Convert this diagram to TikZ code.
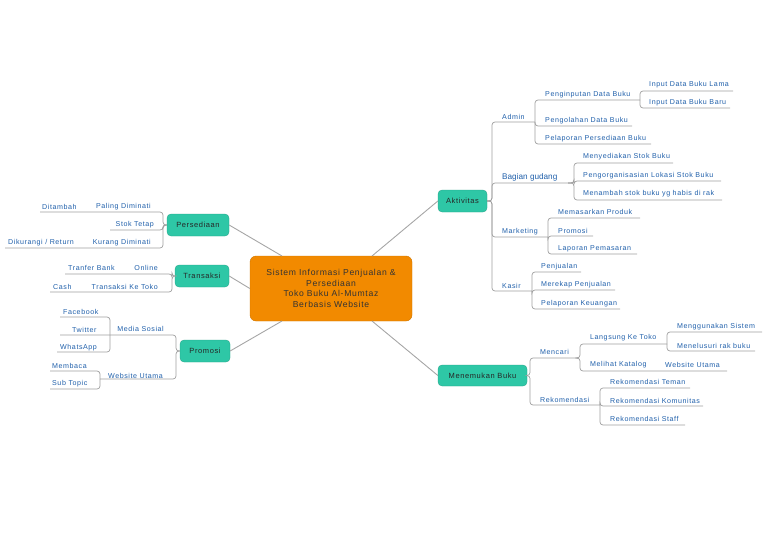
\documentclass[tikz,border=0pt]{standalone}
\usepackage{fontspec}
\setmainfont{Liberation Sans}
\newfontfamily\lff[LetterSpace=8]{Liberation Sans}
\begin{document}
\begin{tikzpicture}[x=1pt,y=-1pt,
  lf/.style={inner sep=0pt,font=\lff\fontsize{7.1}{8}\selectfont,text=leafblue},
  ln/.style={draw=gray!75,line width=0.7pt,rounded corners=3pt},
  topic/.style={rounded corners=4pt,fill=tealc,draw=tealc!80!black,line width=0.3pt,font=\lff\fontsize{7.5}{9}\selectfont,text=black!85,inner sep=0pt},
  cl/.style={draw=gray!70,line width=0.9pt}]
\definecolor{leafblue}{HTML}{1F5FAA}
\definecolor{tealc}{HTML}{2EC7A6}
\definecolor{orangec}{HTML}{F28A00}
\useasboundingbox (0,0) rectangle (768,543);
% central
\node[rounded corners=6pt,fill=orangec,draw=orangec!85!black,minimum width=162pt,minimum height=65pt,align=center,font=\lff\fontsize{8.6}{10.5}\selectfont,text=black!80] (c) at (331,288.5) {Sistem Informasi Penjualan \&\\Persediaan\\Toko Buku Al-Mumtaz\\Berbasis Website};
\node[topic,minimum width=49pt,minimum height=22pt] (akt) at (462.5,201) {Aktivitas};
\node[topic,minimum width=89pt,minimum height=21pt] (men) at (482.5,375.5) {Menemukan Buku};
\node[topic,minimum width=62pt,minimum height=22pt] (per) at (198,225) {Persediaan};
\node[topic,minimum width=54pt,minimum height=22pt] (tra) at (202,276) {Transaksi};
\node[topic,minimum width=50pt,minimum height=22pt] (pro) at (205,351) {Promosi};
\draw[cl] (372,256) -- (akt.west);
\draw[cl] (372,321) -- (men.west);
\draw[cl] (282,256) -- (per.east);
\draw[cl] (c.west) -- (tra.east);
\draw[cl] (282,321) -- (pro.east);
% ---------- Aktivitas
\coordinate (ak) at (487,201);
\draw[ln] (ak) -- (492,201) |- (535,122);
\draw[ln] (ak) -- (492,201) |- (568,183);
\draw[ln] (ak) -- (492,201) |- (548,237);
\draw[ln] (ak) -- (492,201) |- (532,291);
\node[lf,anchor=west] (admin) at (502,117) {Admin};
\node[lf,anchor=west,font=\fontsize{8.2}{9}\selectfont] (bg) at (502,177) {Bagian gudang};
\node[lf,anchor=west] (mk) at (502,232) {Marketing};
\node[lf,anchor=west] (ks) at (502,286) {Kasir};
% admin children
\draw[ln] (535,122) |- (640,100);
\draw[ln] (535,122) |- (632,126);
\draw[ln] (535,122) |- (651,144);
\node[lf,anchor=west] (pdb) at (545,95) {Penginputan Data Buku};
\node[lf,anchor=west] (olah) at (545,121) {Pengolahan Data Buku};
\node[lf,anchor=west] (lpb) at (545,139) {Pelaporan Persediaan Buku};
\draw[ln] (640,100) |- (733,91);
\draw[ln] (640,100) |- (730,108);
\node[lf,anchor=west] (idl) at (649,85) {Input Data Buku Lama};
\node[lf,anchor=west] (idb) at (649,103) {Input Data Buku Baru};
% gudang
\draw[ln] (568,183) -- (574,183) |- (673,163);
\draw[ln] (568,183) -- (574,183) |- (721,181);
\draw[ln] (568,183) -- (574,183) |- (722,200);
\node[lf,anchor=west] (g1) at (583,157) {Menyediakan Stok Buku};
\node[lf,anchor=west] (g2) at (583,176) {Pengorganisasian Lokasi Stok Buku};
\node[lf,anchor=west] (g3) at (583,194) {Menambah stok buku yg habis di rak};
% marketing
\draw[ln] (548,237) |- (640,218);
\draw[ln] (548,237) |- (593,236);
\draw[ln] (548,237) |- (637,254);
\node[lf,anchor=west] (m1) at (558,212) {Memasarkan Produk};
\node[lf,anchor=west] (m2) at (558,231) {Promosi};
\node[lf,anchor=west] (m3) at (558,249) {Laporan Pemasaran};
% kasir
\draw[ln] (532,291) |- (581,272);
\draw[ln] (532,291) |- (615,290);
\draw[ln] (532,291) |- (620,309);
\node[lf,anchor=west] (k1) at (541,267) {Penjualan};
\node[lf,anchor=west] (k2) at (541,285) {Merekap Penjualan};
\node[lf,anchor=west] (k3) at (541,304) {Pelaporan Keuangan};
% ---------- Menemukan Buku
\draw[ln] (men.east) -- (530,375.5) |- (578,358);
\draw[ln] (men.east) -- (530,375.5) |- (600,405);
\node[lf,anchor=west] (mc) at (540,352) {Mencari};
\node[lf,anchor=west] (rk) at (540,400) {Rekomendasi};
\draw[ln] (578,358) -- (580,358) |- (667,344);
\draw[ln] (578,358) -- (580,358) |- (727,371);
\node[lf,anchor=west] (lt) at (590,338) {Langsung Ke Toko};
\node[lf,anchor=west] (mk2) at (590,365) {Melihat Katalog};
\node[lf,anchor=west] (wu) at (665,365) {Website Utama};
\draw[ln] (667,344) |- (762,332);
\draw[ln] (667,344) |- (755,351);
\node[lf,anchor=west] (ms) at (677,327) {Menggunakan Sistem};
\node[lf,anchor=west] (mr) at (677,346) {Menelusuri rak buku};
\draw[ln] (600,405) |- (690,388);
\draw[ln] (600,405) |- (703,406);
\draw[ln] (600,405) |- (685,425);
\node[lf,anchor=west] (r1) at (610,382) {Rekomendasi Teman};
\node[lf,anchor=west] (r2) at (610,401) {Rekomendasi Komunitas};
\node[lf,anchor=west] (r3) at (610,419) {Rekomendasi Staff};
% ---------- Persediaan
\draw[ln] (per.west) -- (163,225) |- (40,212);
\draw[ln] (per.west) -- (163,225) |- (110,230);
\draw[ln] (per.west) -- (163,225) |- (5,248);
\node[lf,anchor=east] (pd) at (151,207) {Paling Diminati};
\node[lf,anchor=west] (dt) at (42,207) {Ditambah};
\node[lf,anchor=east] (st) at (154,225) {Stok Tetap};
\node[lf,anchor=east] (kd) at (151,243) {Kurang Diminati};
\node[lf,anchor=west] (dr) at (8,243) {Dikurangi / Return};
% ---------- Transaksi
\draw[ln] (tra.west) -- (172,276) |- (65,274);
\draw[ln] (tra.west) -- (172,276) |- (50,292);
\node[lf,anchor=east] (on) at (158,268) {Online};
\node[lf,anchor=west] (tb) at (68,268) {Tranfer Bank};
\node[lf,anchor=east] (tk) at (158,287) {Transaksi Ke Toko};
\node[lf,anchor=west] (cs) at (53,287) {Cash};
% ---------- Promosi
\draw[ln] (pro.west) -- (176,351) |- (60,335);
\draw[ln] (pro.west) -- (176,351) |- (100,379);
\node[lf,anchor=east] (ms2) at (164,329) {Media Sosial};
\node[lf,anchor=east] (wu2) at (163,376) {Website Utama};
\draw[ln] (110,335) |- (60,317);
\draw[ln] (110,335) |- (57,352);
\node[lf,anchor=west] (fb) at (63,312) {Facebook};
\node[lf,anchor=west] (tw) at (72,330) {Twitter};
\node[lf,anchor=west] (wa) at (60,348) {WhatsApp};
\draw[ln] (100,379) |- (50,371);
\draw[ln] (100,379) |- (50,389);
\node[lf,anchor=west] (mb) at (52,366) {Membaca};
\node[lf,anchor=west] (shp) at (52,384) {Sub Topic};
\end{tikzpicture}
\end{document}
